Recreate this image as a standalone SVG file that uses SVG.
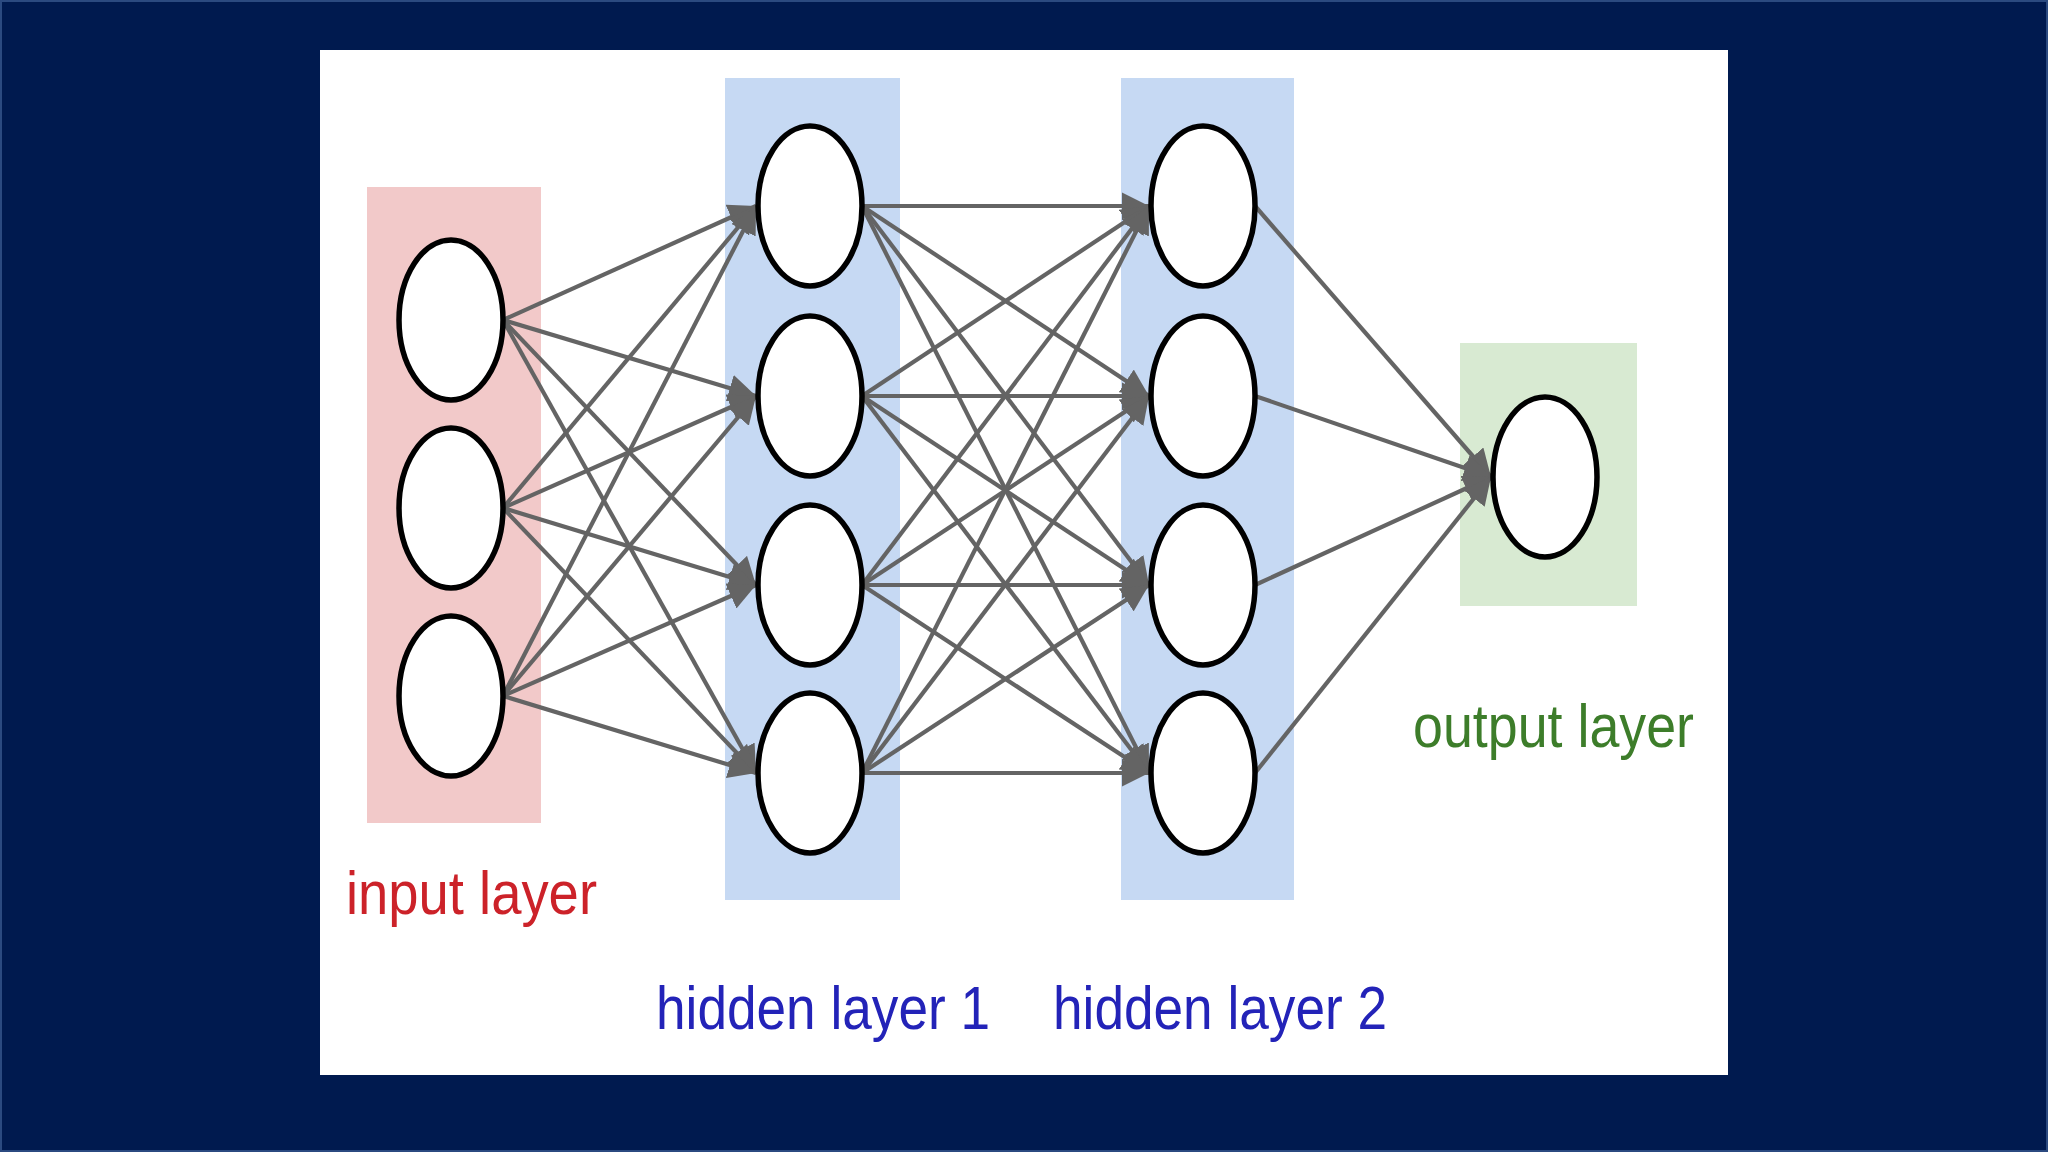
<svg xmlns="http://www.w3.org/2000/svg" width="2048" height="1152" viewBox="0 0 2048 1152">
<style>
.n{fill:#fff;stroke:#000;stroke-width:5.5}
.c line{stroke:#646464;stroke-width:4.2;marker-end:url(#ah)}
.t{font-family:"Liberation Sans",Arial,sans-serif;font-size:62px}
</style>
<defs><marker id="ah" viewBox="0 0 10 10" refX="10" refY="5" markerWidth="6.5" markerHeight="6.5" markerUnits="strokeWidth" orient="auto"><path d="M0,0L10,5L0,10z" fill="#646464"/></marker></defs>
<rect width="2048" height="1152" fill="#001a4f"/>
<rect x="1" y="1" width="2046" height="1150" fill="none" stroke="#2b4a80" stroke-width="2"/>
<rect x="320" y="50" width="1408" height="1025" fill="#fff"/>
<rect x="367" y="187" width="174" height="636" fill="#f2c9c9"/>
<rect x="725" y="78" width="175" height="822" fill="#c6d9f3"/>
<rect x="1121" y="78" width="173" height="822" fill="#c6d9f3"/>
<rect x="1460" y="343" width="177" height="263" fill="#d8ead2"/>
<g class="c" id="connectors">
<line x1="503" y1="320" x2="756" y2="206"/><line x1="503" y1="320" x2="756" y2="396"/><line x1="503" y1="320" x2="756" y2="585"/><line x1="503" y1="320" x2="756" y2="773"/>
<line x1="503" y1="508" x2="756" y2="206"/><line x1="503" y1="508" x2="756" y2="396"/><line x1="503" y1="508" x2="756" y2="585"/><line x1="503" y1="508" x2="756" y2="773"/>
<line x1="503" y1="696" x2="756" y2="206"/><line x1="503" y1="696" x2="756" y2="396"/><line x1="503" y1="696" x2="756" y2="585"/><line x1="503" y1="696" x2="756" y2="773"/>
<line x1="862" y1="206" x2="1149" y2="206"/><line x1="862" y1="206" x2="1149" y2="396"/><line x1="862" y1="206" x2="1149" y2="585"/><line x1="862" y1="206" x2="1149" y2="773"/>
<line x1="862" y1="396" x2="1149" y2="206"/><line x1="862" y1="396" x2="1149" y2="396"/><line x1="862" y1="396" x2="1149" y2="585"/><line x1="862" y1="396" x2="1149" y2="773"/>
<line x1="862" y1="585" x2="1149" y2="206"/><line x1="862" y1="585" x2="1149" y2="396"/><line x1="862" y1="585" x2="1149" y2="585"/><line x1="862" y1="585" x2="1149" y2="773"/>
<line x1="862" y1="773" x2="1149" y2="206"/><line x1="862" y1="773" x2="1149" y2="396"/><line x1="862" y1="773" x2="1149" y2="585"/><line x1="862" y1="773" x2="1149" y2="773"/>
<line x1="1255" y1="206" x2="1491" y2="477"/><line x1="1255" y1="396" x2="1491" y2="477"/><line x1="1255" y1="585" x2="1491" y2="477"/><line x1="1255" y1="773" x2="1491" y2="477"/>
</g>
<g id="in1"><ellipse class="n" cx="451" cy="320" rx="52" ry="80"/></g>
<g id="in2"><ellipse class="n" cx="451" cy="508" rx="52" ry="80"/></g>
<g id="in3"><ellipse class="n" cx="451" cy="696" rx="52" ry="80"/></g>
<g id="h1a"><ellipse class="n" cx="810" cy="206" rx="52" ry="80"/></g>
<g id="h1b"><ellipse class="n" cx="810" cy="396" rx="52" ry="80"/></g>
<g id="h1c"><ellipse class="n" cx="810" cy="585" rx="52" ry="80"/></g>
<g id="h1d"><ellipse class="n" cx="810" cy="773" rx="52" ry="80"/></g>
<g id="h2a"><ellipse class="n" cx="1203" cy="206" rx="52" ry="80"/></g>
<g id="h2b"><ellipse class="n" cx="1203" cy="396" rx="52" ry="80"/></g>
<g id="h2c"><ellipse class="n" cx="1203" cy="585" rx="52" ry="80"/></g>
<g id="h2d"><ellipse class="n" cx="1203" cy="773" rx="52" ry="80"/></g>
<g id="out"><ellipse class="n" cx="1545" cy="477" rx="52" ry="80"/></g>
<text class="t" x="346" y="914" fill="#cc2229" textLength="251" lengthAdjust="spacingAndGlyphs">input layer</text>
<text class="t" x="656" y="1029" fill="#2323b8" textLength="334" lengthAdjust="spacingAndGlyphs">hidden layer 1</text>
<text class="t" x="1053" y="1029" fill="#2323b8" textLength="334" lengthAdjust="spacingAndGlyphs">hidden layer 2</text>
<text class="t" x="1413" y="747" fill="#3d7d2a" textLength="281" lengthAdjust="spacingAndGlyphs">output layer</text>
</svg>
